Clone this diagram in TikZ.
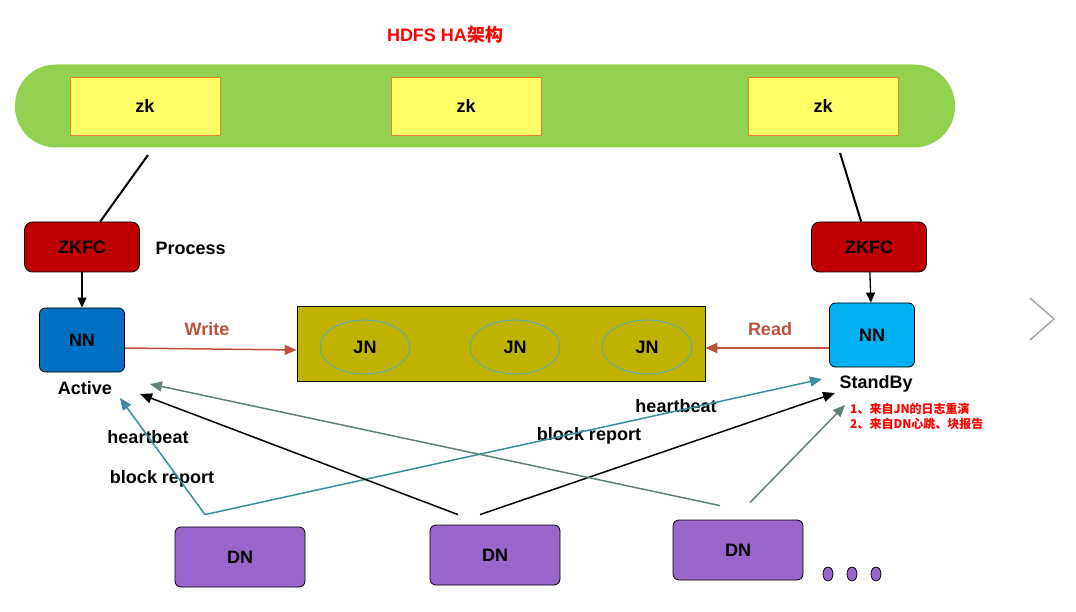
\documentclass[tikz,border=0pt]{standalone}
\usepackage{fontspec}
\setmainfont{Liberation Sans}
\newfontfamily\cjk{Noto Sans CJK SC}
\usetikzlibrary{arrows.meta,shapes.geometric}
\definecolor{ringgreen}{RGB}{146,208,80}
\definecolor{zkyellow}{RGB}{255,255,102}
\definecolor{zkedge}{RGB}{237,125,49}
\definecolor{zkfcred}{RGB}{192,0,0}
\definecolor{nnblue}{RGB}{0,112,192}
\definecolor{nnlight}{RGB}{0,176,240}
\definecolor{jnolive}{RGB}{191,179,0}
\definecolor{jnedge}{RGB}{75,172,198}
\definecolor{dnpurple}{RGB}{153,102,204}
\definecolor{writered}{RGB}{192,80,60}
\definecolor{teal}{RGB}{60,140,160}
\definecolor{sage}{RGB}{96,130,115}
\tikzset{
  lbl/.style={font=\fontsize{18}{20}\selectfont\bfseries},
  zk/.style={draw=zkedge, thick, fill=zkyellow, minimum width=150pt, minimum height=58pt, lbl},
  zkfc/.style={draw=black, thick, rounded corners=8pt, fill=zkfcred, minimum width=115pt, minimum height=50pt, lbl},
  nn/.style={draw=black, thick, rounded corners=6pt, minimum width=85pt, minimum height=64pt, lbl},
  jn/.style={ellipse, draw=jnedge, thick, minimum width=90pt, minimum height=54pt, lbl},
  dn/.style={draw=black, thick, rounded corners=6pt, fill=dnpurple, minimum width=130pt, minimum height=60pt, lbl},
  link/.style={-{Triangle[length=12pt,width=10pt]}, line width=1.5pt},
}
\begin{document}
\begin{tikzpicture}[x=1pt,y=-1pt]
\useasboundingbox (0,0) rectangle (1076,612);

% Title and ring
  \node[text=red, font=\fontsize{18}{20}\selectfont\bfseries] (title) at (445,35) {HDFS HA{\cjk 架构}};
  \node[fill=ringgreen, rounded corners=41pt, minimum width=940pt, minimum height=83pt] (ring) at (485,106) {};
  \node[zk] (zk1) at (145,106) {zk};
  \node[zk] (zk2) at (466,106) {zk};
  \node[zk] (zk3) at (823,106) {zk};

% Controllers and name nodes
  \node[zkfc] (zkfcA) at (82,247) {ZKFC};
  \node[zkfc] (zkfcS) at (869,247) {ZKFC};
  \node[lbl, anchor=west] (proc) at (152,248) {Process};
  \node[nn, fill=nnblue] (nnA) at (82,340) {NN};
  \node[nn, fill=nnlight] (nnS) at (872,335) {NN};
  \node[lbl] (act) at (85,388) {Active};
  \node[lbl] (stby) at (876,384) {StandBy};
  \coordinate (ringA) at (148,155);
  \coordinate (ringS) at (840,153);

% Journal nodes
  \node[draw=black, thick, fill=jnolive, minimum width=408pt, minimum height=75pt] (jbox) at (501,344) {};
  \node[jn] (jn1) at (365,347) {JN};
  \node[jn] (jn2) at (515,347) {JN};
  \node[jn] (jn3) at (647,347) {JN};

% Data nodes
  \node[dn] (dn1) at (240,557) {DN};
  \node[dn] (dn2) at (495,555) {DN};
  \node[dn] (dn3) at (738,550) {DN};
  \foreach \i/\x in {1/828,2/852,3/876}
    \node[ellipse, draw=black, thick, fill=dnpurple, minimum width=10pt, minimum height=14pt, inner sep=0pt] (dot\i) at (\x,574) {};

% Texts
  \node[lbl, text=writered] (wr) at (207,329) {Write};
  \node[lbl, text=writered] (rd) at (770,329) {Read};
  \node[lbl] (hbA) at (148,437) {heartbeat};
  \node[lbl] (brA) at (162,479) {block report};
  \node[lbl] (hbS) at (676,406) {heartbeat};
  \node[lbl] (brS) at (589,436) {block report};
  \node[text=red, anchor=north west, align=left, inner sep=0pt, font=\cjk\fontsize{12}{15}\selectfont\bfseries] (note) at (850,403) {1、来自JN的日志重演\\2、来自DN心跳、块报告};

% Edges
  \draw[line width=2pt] (ringA) -- (zkfcA);
  \draw[line width=2pt] (ringS) -- (zkfcS);
  \draw[-{Triangle[length=10pt,width=9pt]}, line width=1.3pt] (zkfcA) -- (nnA);
  \draw[-{Triangle[length=10pt,width=9pt]}, line width=1.3pt] (zkfcS) -- (nnS);
  \draw[link, writered] (nnA.east |- 0,348) -- (jbox.west |- 0,350);
  \draw[link, writered] (nnS.west |- 0,348) -- (jbox.east |- 0,348);
  \draw[link, teal] (dn1.north) ++(-35,-12) coordinate (t1) (t1) -- (120,398);
  \draw[link, teal] (t1) -- (822,379);
  \draw[link, black] (dn2.north) ++(-37,-10) coordinate (t2) (t2) -- (140,394);
  \draw[link, black] (dn2.north) ++(-15,-10) coordinate (t3) (t3) -- (835,393);
  \draw[link, sage] (dn3.north) ++(-18,-14) coordinate (t4) (t4) -- (150,384);
  \draw[link, sage] (dn3.north) ++(12,-17) coordinate (t5) (t5) -- (845,405);

% Page arrow
  \draw[gray!70, line width=1.5pt] (1030,298) -- (1054,319) -- (1030,340);
\end{tikzpicture}
\end{document}
